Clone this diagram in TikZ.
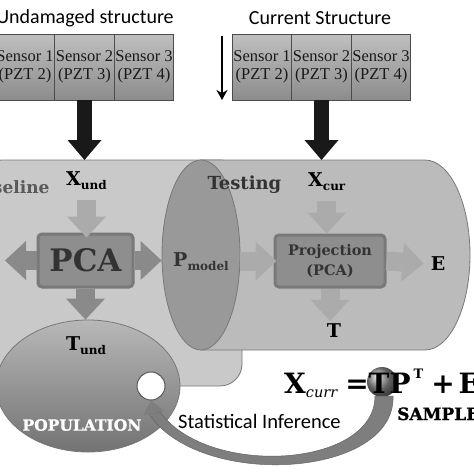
\documentclass[tikz,border=0pt]{standalone}
\usepackage{fontspec}
\setmainfont{DejaVu Serif}
\newfontfamily\sensorfont{Liberation Serif}
\newfontfamily\titlefont{Carlito}
\newfontfamily\heavyfont{DejaVu Serif Bold}[FakeBold=1.2]
\usetikzlibrary{arrows.meta,shapes.geometric}

\definecolor{baseG}{HTML}{C9C9C9}
\definecolor{testG}{HTML}{BBBBBB}
\definecolor{capG}{HTML}{999999}
\definecolor{edgeG}{HTML}{787878}
\definecolor{boxG}{HTML}{8E8E8E}
\definecolor{darkG}{HTML}{8A8A8A}
\definecolor{lightG}{HTML}{ABABAB}
\definecolor{labelG}{HTML}{333333}
\definecolor{inferG}{HTML}{7E7E7E}

\newcommand{\lsub}[1]{\raisebox{-4pt}{\fontsize{12}{12}\selectfont #1}}

\tikzset{
  sensor/.style={draw=black!70, line width=0.8pt, top color=black!25, bottom color=black!45,
    minimum width=59.5pt, minimum height=66pt, inner sep=0pt, align=center,
    font=\sensorfont\fontsize{16.5}{18}\selectfont, text=black!90},
  title/.style={font=\titlefont\fontsize{20}{22}\selectfont},
  bigarrow/.style={line width=15pt, black!90, -{Triangle[width=34pt,length=20pt,line width=0pt]}},
  grayarrow/.style={line width=19pt, -{Triangle[width=39pt,length=21pt,line width=0pt]}},
  procbox/.style={draw=boxG!85!black, line width=3pt, fill=boxG, rounded corners=4pt,
    align=center, text=labelG},
  sym/.style={font=\bfseries\fontsize{19}{20}\selectfont, inner sep=1pt},
}

\begin{document}
\begin{tikzpicture}[x=1pt,y=-1pt]
\fill[white] (0,0) rectangle (474,474);
\useasboundingbox (0,0) rectangle (474,474);

% the two structures
\node[title] (tund) at (85,18) {Undamaged structure};
\node[title] (tcur) at (320,18) {Current Structure};

\node[sensor] (l1) at (25,67) {Sensor 1\\(PZT 2)};
\node[sensor] (l2) at (84.5,67) {Sensor 2\\(PZT 3)};
\node[sensor] (l3) at (144,67) {Sensor 3\\(PZT 4)};
\node[sensor] (r1) at (262,67) {Sensor 1\\(PZT 2)};
\node[sensor] (r2) at (321.5,67) {Sensor 2\\(PZT 3)};
\node[sensor] (r3) at (381,67) {Sensor 3\\(PZT 4)};

\coordinate (dtop) at (222,36);
\coordinate (dbot) at (222,100);
\draw[line width=1.6pt, -{Stealth[length=10pt,width=11pt]}] (dtop) -- (dbot);

% cylinders
\coordinate (basetop) at (0,160);
\filldraw[fill=baseG, draw=edgeG, line width=0.8pt, rounded corners=22pt] (-20,160) rectangle (242,386);
\filldraw[fill=testG, draw=edgeG, line width=0.8pt] (201,160) -- (425,160)
  .. controls (450,160) and (470,203) .. (470,255)
  .. controls (470,307) and (450,350) .. (425,350) -- (201,350) -- cycle;
\node[ellipse, fill=capG, draw=edgeG, line width=0.8pt, minimum width=78pt,
  minimum height=190pt, inner sep=0pt] (pmodel) at (201,255) {};

\draw[bigarrow] (l2.south) -- (l2.south |- basetop);
\draw[bigarrow] (r2.south) -- (r2.south |- basetop);

% population
\node[ellipse, draw=edgeG, line width=0.8pt, top color=black!28, bottom color=black!55,
  minimum width=184pt, minimum height=132pt, inner sep=0pt] (pop) at (88,386) {};
\node[circle, fill=white, draw=black!65, line width=1pt, minimum size=28pt, inner sep=0pt] (popc) at (151,386) {};

% labels
\node[font=\bfseries\fontsize{17}{17}\selectfont, text=black!65, anchor=base east] (basel) at (53,193) {Baseline};
\node[font=\bfseries\fontsize{18}{18}\selectfont, text=black!80, anchor=base west] (testl) at (204,189) {Testing};
\node[sym, anchor=base west] (xund) at (65,185) {X\lsub{und}};
\node[sym, anchor=base west] (xcur) at (307,186) {X\lsub{cur}};
\node[sym, text=labelG] (pml) at (201,262) {P\lsub{model}};
\node[sym] (tu) at (86,346) {T\lsub{und}};
\node[sym] (tt) at (334,331) {T};
\node[sym] (en) at (438,264) {E};

\node[procbox, minimum width=95pt, minimum height=53pt, font=\bfseries\fontsize{31}{31}\selectfont] (pca) at (85.5,260.5) {PCA};
\node[procbox, minimum width=110pt, minimum height=52pt, font=\bfseries\fontsize{14.5}{19.5}\selectfont] (proj) at (330,261) {Projection\\(PCA)};

% block arrows
\coordinate (pleft) at (5,260.5);
\draw[grayarrow, lightG, shorten <=10pt, shorten >=-5pt] (xund.south) -- (xund.south |- pca.north);
\draw[grayarrow, darkG] (pca.west) -- (pleft);
\draw[grayarrow, darkG] (pca.east) -- (pca.east -| pmodel.west);
\draw[grayarrow, darkG] (pca.south) -- (pca.south |- pop.north);
\draw[grayarrow, lightG, shorten >=-3pt] (pmodel.east |- proj.west) -- (proj.west);
\draw[grayarrow, lightG, shorten <=10pt] (xcur.south) -- (xcur.south |- proj.north);
\draw[grayarrow, lightG, shorten >=6pt] (proj.east) -- (en.west);
\draw[grayarrow, lightG, shorten >=2pt] (proj.south) -- (proj.south |- tt.north);

% model equation
\node[circle, ball color=black!45, minimum size=30pt, inner sep=0pt] (sph) at (382,382) {};
\node[anchor=base west, font=\bfseries\fontsize{28}{28}\selectfont, inner sep=0pt] (eq) at (284,393)
  {X\raisebox{-4pt}{\mdseries\itshape\fontsize{14.5}{14.5}\selectfont curr}\hspace{8pt}=\hspace{0pt}TP\hspace{3pt}\raisebox{15pt}{\fontsize{13}{13}\selectfont T}\hspace{8pt}+\hspace{4pt}E};
\node[anchor=base west, font=\heavyfont\fontsize{17}{17}\selectfont, inner sep=0pt] (samp) at (397,420) {SAMPLE};
\node[font=\heavyfont\fontsize{15.5}{16}\selectfont, text=white] (popl) at (82,425) {POPULATION};
\node[anchor=base west, font=\titlefont\fontsize{20.5}{22}\selectfont, inner sep=0pt] (infl) at (178,428) {Statistical Inference};

% inference arrow
\coordinate (ibase) at (154,415);
\filldraw[fill=inferG, draw=black!60, line width=0.5pt] (393,396) .. controls (396,478) and (200,490) .. (149,414)
  -- (160,412) .. controls (208,478) and (375,468) .. (375,396) -- cycle;
\draw[inferG, line width=8pt, -{Triangle[width=22pt,length=13pt,line width=0pt]}] (ibase) -- (popc.south);
\end{tikzpicture}
\end{document}
